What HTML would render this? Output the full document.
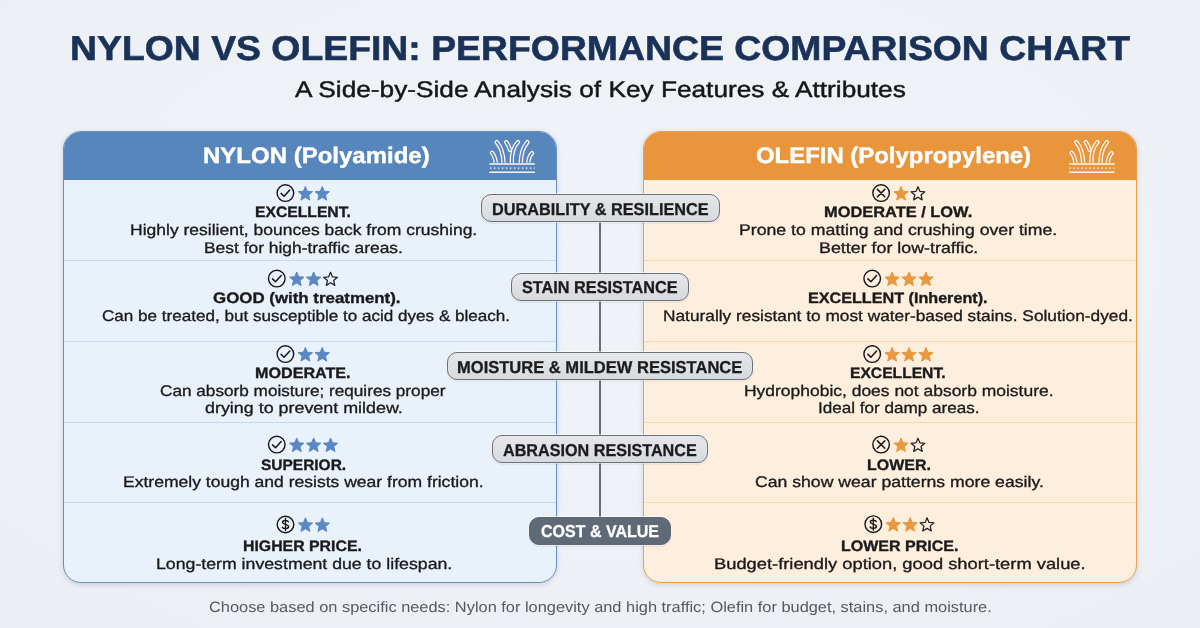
<!DOCTYPE html>
<html><head><meta charset="utf-8"><title>Nylon vs Olefin</title>
<style>
html,body{margin:0;padding:0}
body{width:1200px;height:628px;overflow:hidden;position:relative;background:#eef0f4;font-family:"Liberation Sans",sans-serif}
.bg{position:absolute;left:0;top:0;width:1200px;height:628px;background:radial-gradient(ellipse 75% 80% at 52% 42%,#eff3f8 0%,#eef2f7 55%,#ebeef2 100%)}
.mid{display:none}
.panel{position:absolute;top:131px;width:494px;height:452px;border-radius:18px;box-sizing:border-box;overflow:hidden;box-shadow:0 1.5px 5px rgba(90,100,120,.20)}
.panel .hd{position:absolute;left:0;top:0;right:0;height:47.5px}
.panel .dv{position:absolute;left:0;right:0;height:1px}
#pl{left:63px;background:#e9f1fb;border:1.3px solid #6590c4}
#pl .hd{background:#5786bd}
#pl .dv{background:#c6d9ee}
#pr{left:643px;background:#fdeedd;border:1.3px solid #e9a052}
#pr .hd{background:#e9953c}
#pr .dv{background:#f8d6b0}
.vl{position:absolute;left:599.4px;top:215px;width:1.7px;height:310px;background:#696d72}
.pill{position:absolute;box-sizing:border-box;border:1.2px solid #6d7176;border-radius:10px;background:linear-gradient(#e5e7ea,#d7dade);box-shadow:0 0 0 1px rgba(255,255,255,.55),0 1px 2px rgba(0,0,0,.18)}
.pill.dark{background:#5f6a76;border-color:#5f6a76}
.t{position:absolute;white-space:nowrap;line-height:1;transform-origin:0 0;display:block;text-rendering:geometricPrecision}
svg{position:absolute;left:0;top:0}
.txt{position:absolute;left:0;top:0;width:1200px;height:628px;will-change:transform}
</style></head><body>
<div class="bg"></div>
<div class="mid"></div>
<div class="panel" id="pl"><div class="hd"></div><div class="dv" style="top:128.2px"></div><div class="dv" style="top:209.2px"></div><div class="dv" style="top:289.59999999999997px"></div><div class="dv" style="top:370.3px"></div></div>
<div class="panel" id="pr"><div class="hd"></div><div class="dv" style="top:128.2px"></div><div class="dv" style="top:209.2px"></div><div class="dv" style="top:289.59999999999997px"></div><div class="dv" style="top:370.3px"></div></div>
<div class="vl"></div>
<div class="pill" style="left:480.5px;top:194.2px;width:239.0px;height:28.0px"></div>
<div class="pill" style="left:511.3px;top:272.8px;width:177.3px;height:27.8px"></div>
<div class="pill" style="left:447.3px;top:352.0px;width:305.3px;height:27.8px"></div>
<div class="pill" style="left:491.8px;top:434.9px;width:216.4px;height:27.8px"></div>
<div class="pill dark" style="left:529.2px;top:517.1px;width:141.6px;height:28.1px"></div>

<svg width="1200" height="628" viewBox="0 0 1200 628"><circle cx="285.4" cy="193.1" r="8.3" fill="none" stroke="#161616" stroke-width="1.4"/><path d="M281.10 193.40 L284.10 196.30 L289.80 190.10" fill="none" stroke="#161616" stroke-width="1.5" stroke-linecap="round" stroke-linejoin="round"/><path d="M305.35 186.45 L307.35 191.25 L312.53 191.67 L308.58 195.05 L309.79 200.11 L305.35 197.40 L300.91 200.11 L302.12 195.05 L298.17 191.67 L303.35 191.25Z" fill="#5b88c2" stroke="#5b88c2" stroke-width="1" stroke-linejoin="round"/><path d="M322.25 186.45 L324.25 191.25 L329.43 191.67 L325.48 195.05 L326.69 200.11 L322.25 197.40 L317.81 200.11 L319.02 195.05 L315.07 191.67 L320.25 191.25Z" fill="#5b88c2" stroke="#5b88c2" stroke-width="1" stroke-linejoin="round"/><circle cx="276.8" cy="278.6" r="8.3" fill="none" stroke="#161616" stroke-width="1.4"/><path d="M272.50 278.90 L275.50 281.80 L281.20 275.60" fill="none" stroke="#161616" stroke-width="1.5" stroke-linecap="round" stroke-linejoin="round"/><path d="M296.75 271.95 L298.75 276.75 L303.93 277.17 L299.98 280.55 L301.19 285.61 L296.75 282.90 L292.31 285.61 L293.52 280.55 L289.57 277.17 L294.75 276.75Z" fill="#5b88c2" stroke="#5b88c2" stroke-width="1" stroke-linejoin="round"/><path d="M313.65 271.95 L315.65 276.75 L320.83 277.17 L316.88 280.55 L318.09 285.61 L313.65 282.90 L309.21 285.61 L310.42 280.55 L306.47 277.17 L311.65 276.75Z" fill="#5b88c2" stroke="#5b88c2" stroke-width="1" stroke-linejoin="round"/><path d="M330.55 272.25 L332.47 276.86 L337.45 277.26 L333.65 280.51 L334.81 285.37 L330.55 282.76 L326.29 285.37 L327.45 280.51 L323.65 277.26 L328.63 276.86Z" fill="none" stroke="#222" stroke-width="1.25" stroke-linejoin="round"/><circle cx="285.4" cy="354.1" r="8.3" fill="none" stroke="#161616" stroke-width="1.4"/><path d="M281.10 354.40 L284.10 357.30 L289.80 351.10" fill="none" stroke="#161616" stroke-width="1.5" stroke-linecap="round" stroke-linejoin="round"/><path d="M305.35 347.45 L307.35 352.25 L312.53 352.67 L308.58 356.05 L309.79 361.11 L305.35 358.40 L300.91 361.11 L302.12 356.05 L298.17 352.67 L303.35 352.25Z" fill="#5b88c2" stroke="#5b88c2" stroke-width="1" stroke-linejoin="round"/><path d="M322.25 347.45 L324.25 352.25 L329.43 352.67 L325.48 356.05 L326.69 361.11 L322.25 358.40 L317.81 361.11 L319.02 356.05 L315.07 352.67 L320.25 352.25Z" fill="#5b88c2" stroke="#5b88c2" stroke-width="1" stroke-linejoin="round"/><circle cx="276.8" cy="444.6" r="8.3" fill="none" stroke="#161616" stroke-width="1.4"/><path d="M272.50 444.90 L275.50 447.80 L281.20 441.60" fill="none" stroke="#161616" stroke-width="1.5" stroke-linecap="round" stroke-linejoin="round"/><path d="M296.75 437.95 L298.75 442.75 L303.93 443.17 L299.98 446.55 L301.19 451.61 L296.75 448.90 L292.31 451.61 L293.52 446.55 L289.57 443.17 L294.75 442.75Z" fill="#5b88c2" stroke="#5b88c2" stroke-width="1" stroke-linejoin="round"/><path d="M313.65 437.95 L315.65 442.75 L320.83 443.17 L316.88 446.55 L318.09 451.61 L313.65 448.90 L309.21 451.61 L310.42 446.55 L306.47 443.17 L311.65 442.75Z" fill="#5b88c2" stroke="#5b88c2" stroke-width="1" stroke-linejoin="round"/><path d="M330.55 437.95 L332.55 442.75 L337.73 443.17 L333.78 446.55 L334.99 451.61 L330.55 448.90 L326.11 451.61 L327.32 446.55 L323.37 443.17 L328.55 442.75Z" fill="#5b88c2" stroke="#5b88c2" stroke-width="1" stroke-linejoin="round"/><circle cx="285.5" cy="524.5" r="8.3" fill="none" stroke="#161616" stroke-width="1.4"/><path d="M288.40 521.80 C287.70 520.10 282.50 519.90 282.50 522.30 C282.50 524.70 288.60 524.10 288.60 526.80 C288.60 529.20 283.10 529.00 282.40 527.20" fill="none" stroke="#161616" stroke-width="1.5" stroke-linecap="round"/><path d="M285.5 518.5 L285.5 530.5" stroke="#161616" stroke-width="1.3" stroke-linecap="round"/><path d="M305.45 517.85 L307.45 522.65 L312.63 523.07 L308.68 526.45 L309.89 531.51 L305.45 528.80 L301.01 531.51 L302.22 526.45 L298.27 523.07 L303.45 522.65Z" fill="#5b88c2" stroke="#5b88c2" stroke-width="1" stroke-linejoin="round"/><path d="M322.35 517.85 L324.35 522.65 L329.53 523.07 L325.58 526.45 L326.79 531.51 L322.35 528.80 L317.91 531.51 L319.12 526.45 L315.17 523.07 L320.35 522.65Z" fill="#5b88c2" stroke="#5b88c2" stroke-width="1" stroke-linejoin="round"/><circle cx="881.1" cy="193.1" r="8.3" fill="none" stroke="#161616" stroke-width="1.4"/><path d="M877.4 189.4 L884.8000000000001 196.79999999999998 M884.8000000000001 189.4 L877.4 196.79999999999998" fill="none" stroke="#161616" stroke-width="1.5" stroke-linecap="round"/><path d="M901.05 186.45 L903.05 191.25 L908.23 191.67 L904.28 195.05 L905.49 200.11 L901.05 197.40 L896.61 200.11 L897.82 195.05 L893.87 191.67 L899.05 191.25Z" fill="#e8993f" stroke="#e8993f" stroke-width="1" stroke-linejoin="round"/><path d="M917.95 186.75 L919.87 191.36 L924.85 191.76 L921.05 195.01 L922.21 199.87 L917.95 197.26 L913.69 199.87 L914.85 195.01 L911.05 191.76 L916.03 191.36Z" fill="none" stroke="#222" stroke-width="1.25" stroke-linejoin="round"/><circle cx="872.2" cy="278.6" r="8.3" fill="none" stroke="#161616" stroke-width="1.4"/><path d="M867.90 278.90 L870.90 281.80 L876.60 275.60" fill="none" stroke="#161616" stroke-width="1.5" stroke-linecap="round" stroke-linejoin="round"/><path d="M892.15 271.95 L894.15 276.75 L899.33 277.17 L895.38 280.55 L896.59 285.61 L892.15 282.90 L887.71 285.61 L888.92 280.55 L884.97 277.17 L890.15 276.75Z" fill="#e8993f" stroke="#e8993f" stroke-width="1" stroke-linejoin="round"/><path d="M909.05 271.95 L911.05 276.75 L916.23 277.17 L912.28 280.55 L913.49 285.61 L909.05 282.90 L904.61 285.61 L905.82 280.55 L901.87 277.17 L907.05 276.75Z" fill="#e8993f" stroke="#e8993f" stroke-width="1" stroke-linejoin="round"/><path d="M925.95 271.95 L927.95 276.75 L933.13 277.17 L929.18 280.55 L930.39 285.61 L925.95 282.90 L921.51 285.61 L922.72 280.55 L918.77 277.17 L923.95 276.75Z" fill="#e8993f" stroke="#e8993f" stroke-width="1" stroke-linejoin="round"/><circle cx="872.2" cy="354.1" r="8.3" fill="none" stroke="#161616" stroke-width="1.4"/><path d="M867.90 354.40 L870.90 357.30 L876.60 351.10" fill="none" stroke="#161616" stroke-width="1.5" stroke-linecap="round" stroke-linejoin="round"/><path d="M892.15 347.45 L894.15 352.25 L899.33 352.67 L895.38 356.05 L896.59 361.11 L892.15 358.40 L887.71 361.11 L888.92 356.05 L884.97 352.67 L890.15 352.25Z" fill="#e8993f" stroke="#e8993f" stroke-width="1" stroke-linejoin="round"/><path d="M909.05 347.45 L911.05 352.25 L916.23 352.67 L912.28 356.05 L913.49 361.11 L909.05 358.40 L904.61 361.11 L905.82 356.05 L901.87 352.67 L907.05 352.25Z" fill="#e8993f" stroke="#e8993f" stroke-width="1" stroke-linejoin="round"/><path d="M925.95 347.45 L927.95 352.25 L933.13 352.67 L929.18 356.05 L930.39 361.11 L925.95 358.40 L921.51 361.11 L922.72 356.05 L918.77 352.67 L923.95 352.25Z" fill="#e8993f" stroke="#e8993f" stroke-width="1" stroke-linejoin="round"/><circle cx="881.1" cy="444.6" r="8.3" fill="none" stroke="#161616" stroke-width="1.4"/><path d="M877.4 440.90000000000003 L884.8000000000001 448.3 M884.8000000000001 440.90000000000003 L877.4 448.3" fill="none" stroke="#161616" stroke-width="1.5" stroke-linecap="round"/><path d="M901.05 437.95 L903.05 442.75 L908.23 443.17 L904.28 446.55 L905.49 451.61 L901.05 448.90 L896.61 451.61 L897.82 446.55 L893.87 443.17 L899.05 442.75Z" fill="#e8993f" stroke="#e8993f" stroke-width="1" stroke-linejoin="round"/><path d="M917.95 438.25 L919.87 442.86 L924.85 443.26 L921.05 446.51 L922.21 451.37 L917.95 448.76 L913.69 451.37 L914.85 446.51 L911.05 443.26 L916.03 442.86Z" fill="none" stroke="#222" stroke-width="1.25" stroke-linejoin="round"/><circle cx="873.3" cy="524.2" r="8.3" fill="none" stroke="#161616" stroke-width="1.4"/><path d="M876.20 521.50 C875.50 519.80 870.30 519.60 870.30 522.00 C870.30 524.40 876.40 523.80 876.40 526.50 C876.40 528.90 870.90 528.70 870.20 526.90" fill="none" stroke="#161616" stroke-width="1.5" stroke-linecap="round"/><path d="M873.3 518.2 L873.3 530.2" stroke="#161616" stroke-width="1.3" stroke-linecap="round"/><path d="M893.25 517.55 L895.25 522.35 L900.43 522.77 L896.48 526.15 L897.69 531.21 L893.25 528.50 L888.81 531.21 L890.02 526.15 L886.07 522.77 L891.25 522.35Z" fill="#e8993f" stroke="#e8993f" stroke-width="1" stroke-linejoin="round"/><path d="M910.15 517.55 L912.15 522.35 L917.33 522.77 L913.38 526.15 L914.59 531.21 L910.15 528.50 L905.71 531.21 L906.92 526.15 L902.97 522.77 L908.15 522.35Z" fill="#e8993f" stroke="#e8993f" stroke-width="1" stroke-linejoin="round"/><path d="M927.05 517.85 L928.97 522.46 L933.95 522.86 L930.15 526.11 L931.31 530.97 L927.05 528.36 L922.79 530.97 L923.95 526.11 L920.15 522.86 L925.13 522.46Z" fill="none" stroke="#222" stroke-width="1.25" stroke-linejoin="round"/><g transform="translate(489.4,139.6)" fill="none" stroke-linecap="round"><path d="M6.5 23.5 C5.8 19 4.8 15.6 2.6 13.2" stroke="#fdf6ee" stroke-width="4.4"/><path d="M14.2 23.5 C13.8 14.5 11.5 7.2 7.3 2.6" stroke="#fdf6ee" stroke-width="4.4"/><path d="M22.4 23.5 C22.2 14 24.6 6.2 28.6 2.6" stroke="#fdf6ee" stroke-width="4.4"/><path d="M20.6 10.2 C19.6 7 18.4 4.6 16.8 2.6" stroke="#fdf6ee" stroke-width="4.4"/><path d="M31.4 23.5 C31.4 14.5 34 7.2 38.0 2.6" stroke="#fdf6ee" stroke-width="4.4"/><path d="M38.8 23.5 C39.2 19 40.6 15.6 42.6 13.6" stroke="#fdf6ee" stroke-width="4.4"/><path d="M6.5 23.5 C5.8 19 4.8 15.6 2.6 13.2" stroke="#5786bd" stroke-width="1.8"/><path d="M14.2 23.5 C13.8 14.5 11.5 7.2 7.3 2.6" stroke="#5786bd" stroke-width="1.8"/><path d="M22.4 23.5 C22.2 14 24.6 6.2 28.6 2.6" stroke="#5786bd" stroke-width="1.8"/><path d="M20.6 10.2 C19.6 7 18.4 4.6 16.8 2.6" stroke="#5786bd" stroke-width="1.8"/><path d="M31.4 23.5 C31.4 14.5 34 7.2 38.0 2.6" stroke="#5786bd" stroke-width="1.8"/><path d="M38.8 23.5 C39.2 19 40.6 15.6 42.6 13.6" stroke="#5786bd" stroke-width="1.8"/><rect x="-1" y="23.2" width="48" height="12" fill="#5786bd" stroke="none"/><path d="M0 24.3 H45.5" stroke="#fdf6ee" stroke-width="1.5" stroke-linecap="butt"/><path d="M0.5 28.5 H45.5" stroke="#fdf6ee" stroke-width="1.3" stroke-dasharray="1.5 2.5" stroke-linecap="butt"/><path d="M0 32.6 H45.5" stroke="#fdf6ee" stroke-width="1.5" stroke-linecap="butt"/></g><g transform="translate(1069.0,139.6)" fill="none" stroke-linecap="round"><path d="M6.5 23.5 C5.8 19 4.8 15.6 2.6 13.2" stroke="#fdf6ee" stroke-width="4.4"/><path d="M14.2 23.5 C13.8 14.5 11.5 7.2 7.3 2.6" stroke="#fdf6ee" stroke-width="4.4"/><path d="M22.4 23.5 C22.2 14 24.6 6.2 28.6 2.6" stroke="#fdf6ee" stroke-width="4.4"/><path d="M20.6 10.2 C19.6 7 18.4 4.6 16.8 2.6" stroke="#fdf6ee" stroke-width="4.4"/><path d="M31.4 23.5 C31.4 14.5 34 7.2 38.0 2.6" stroke="#fdf6ee" stroke-width="4.4"/><path d="M38.8 23.5 C39.2 19 40.6 15.6 42.6 13.6" stroke="#fdf6ee" stroke-width="4.4"/><path d="M6.5 23.5 C5.8 19 4.8 15.6 2.6 13.2" stroke="#e9953c" stroke-width="1.8"/><path d="M14.2 23.5 C13.8 14.5 11.5 7.2 7.3 2.6" stroke="#e9953c" stroke-width="1.8"/><path d="M22.4 23.5 C22.2 14 24.6 6.2 28.6 2.6" stroke="#e9953c" stroke-width="1.8"/><path d="M20.6 10.2 C19.6 7 18.4 4.6 16.8 2.6" stroke="#e9953c" stroke-width="1.8"/><path d="M31.4 23.5 C31.4 14.5 34 7.2 38.0 2.6" stroke="#e9953c" stroke-width="1.8"/><path d="M38.8 23.5 C39.2 19 40.6 15.6 42.6 13.6" stroke="#e9953c" stroke-width="1.8"/><rect x="-1" y="23.2" width="48" height="12" fill="#e9953c" stroke="none"/><path d="M0 24.3 H45.5" stroke="#fdf6ee" stroke-width="1.5" stroke-linecap="butt"/><path d="M0.5 28.5 H45.5" stroke="#fdf6ee" stroke-width="1.3" stroke-dasharray="1.5 2.5" stroke-linecap="butt"/><path d="M0 32.6 H45.5" stroke="#fdf6ee" stroke-width="1.5" stroke-linecap="butt"/></g></svg>
<div class="txt">
<span class="t" style="left:70.15px;top:32px;font-size:34.4px;font-weight:700;color:#1a3258;-webkit-text-stroke:0.6px #1a3258;transform:scaleX(1.0864)">NYLON VS OLEFIN: PERFORMANCE COMPARISON CHART</span>
<span class="t" style="left:294.76px;top:79px;font-size:22.6px;font-weight:400;color:#161616;-webkit-text-stroke:0.45px #161616;transform:scaleX(1.1608)">A Side-by-Side Analysis of Key Features &amp; Attributes</span>
<span class="t" style="left:203.34px;top:145px;font-size:22.4px;font-weight:700;color:#ffffff;-webkit-text-stroke:0.4px #ffffff;transform:scaleX(1.0716)">NYLON (Polyamide)</span>
<span class="t" style="left:755.61px;top:145px;font-size:22.4px;font-weight:700;color:#ffffff;-webkit-text-stroke:0.4px #ffffff;transform:scaleX(1.0681)">OLEFIN (Polypropylene)</span>
<span class="t" style="left:254.84px;top:205px;font-size:15.1px;font-weight:700;color:#1a1a1a;-webkit-text-stroke:0.35px #1a1a1a;transform:scaleX(1.0393)">EXCELLENT.</span>
<span class="t" style="left:129.74px;top:223px;font-size:15.4px;font-weight:400;color:#1a1a1a;-webkit-text-stroke:0.32px #1a1a1a;transform:scaleX(1.1370)">Highly resilient, bounces back from crushing.</span>
<span class="t" style="left:204.05px;top:241px;font-size:15.4px;font-weight:400;color:#1a1a1a;-webkit-text-stroke:0.32px #1a1a1a;transform:scaleX(1.1306)">Best for high-traffic areas.</span>
<span class="t" style="left:212.50px;top:291px;font-size:15.1px;font-weight:700;color:#1a1a1a;-webkit-text-stroke:0.35px #1a1a1a;transform:scaleX(1.1181)">GOOD (with treatment).</span>
<span class="t" style="left:102.18px;top:309px;font-size:15.4px;font-weight:400;color:#1a1a1a;-webkit-text-stroke:0.32px #1a1a1a;transform:scaleX(1.1092)">Can be treated, but susceptible to acid dyes &amp; bleach.</span>
<span class="t" style="left:255.12px;top:366px;font-size:15.1px;font-weight:700;color:#1a1a1a;-webkit-text-stroke:0.35px #1a1a1a;transform:scaleX(1.0689)">MODERATE.</span>
<span class="t" style="left:160.18px;top:384px;font-size:15.4px;font-weight:400;color:#1a1a1a;-webkit-text-stroke:0.32px #1a1a1a;transform:scaleX(1.1161)">Can absorb moisture; requires proper</span>
<span class="t" style="left:205.19px;top:401px;font-size:15.4px;font-weight:400;color:#1a1a1a;-webkit-text-stroke:0.32px #1a1a1a;transform:scaleX(1.1620)">drying to prevent mildew.</span>
<span class="t" style="left:260.88px;top:458px;font-size:15.1px;font-weight:700;color:#1a1a1a;-webkit-text-stroke:0.35px #1a1a1a;transform:scaleX(1.0254)">SUPERIOR.</span>
<span class="t" style="left:123.44px;top:475px;font-size:15.4px;font-weight:400;color:#1a1a1a;-webkit-text-stroke:0.32px #1a1a1a;transform:scaleX(1.1392)">Extremely tough and resists wear from friction.</span>
<span class="t" style="left:243.43px;top:539px;font-size:15.1px;font-weight:700;color:#1a1a1a;-webkit-text-stroke:0.35px #1a1a1a;transform:scaleX(1.0501)">HIGHER PRICE.</span>
<span class="t" style="left:155.73px;top:557px;font-size:15.4px;font-weight:400;color:#1a1a1a;-webkit-text-stroke:0.32px #1a1a1a;transform:scaleX(1.1505)">Long-term investment due to lifespan.</span>
<span class="t" style="left:823.80px;top:205px;font-size:15.1px;font-weight:700;color:#1a1a1a;-webkit-text-stroke:0.35px #1a1a1a;transform:scaleX(1.0867)">MODERATE / LOW.</span>
<span class="t" style="left:739.34px;top:223px;font-size:15.4px;font-weight:400;color:#1a1a1a;-webkit-text-stroke:0.32px #1a1a1a;transform:scaleX(1.1482)">Prone to matting and crushing over time.</span>
<span class="t" style="left:818.73px;top:241px;font-size:15.4px;font-weight:400;color:#1a1a1a;-webkit-text-stroke:0.32px #1a1a1a;transform:scaleX(1.1590)">Better for low-traffic.</span>
<span class="t" style="left:807.82px;top:291px;font-size:15.1px;font-weight:700;color:#1a1a1a;-webkit-text-stroke:0.35px #1a1a1a;transform:scaleX(1.0703)">EXCELLENT (Inherent).</span>
<span class="t" style="left:663.36px;top:309px;font-size:15.4px;font-weight:400;color:#1a1a1a;-webkit-text-stroke:0.32px #1a1a1a;transform:scaleX(1.1233)">Naturally resistant to most water-based stains. Solution-dyed.</span>
<span class="t" style="left:850.45px;top:366px;font-size:15.1px;font-weight:700;color:#1a1a1a;-webkit-text-stroke:0.35px #1a1a1a;transform:scaleX(1.0360)">EXCELLENT.</span>
<span class="t" style="left:744.05px;top:384px;font-size:15.4px;font-weight:400;color:#1a1a1a;-webkit-text-stroke:0.32px #1a1a1a;transform:scaleX(1.1342)">Hydrophobic, does not absorb moisture.</span>
<span class="t" style="left:818.07px;top:401px;font-size:15.4px;font-weight:400;color:#1a1a1a;-webkit-text-stroke:0.32px #1a1a1a;transform:scaleX(1.1103)">Ideal for damp areas.</span>
<span class="t" style="left:866.83px;top:458px;font-size:15.1px;font-weight:700;color:#1a1a1a;-webkit-text-stroke:0.35px #1a1a1a;transform:scaleX(1.0584)">LOWER.</span>
<span class="t" style="left:755.18px;top:475px;font-size:15.4px;font-weight:400;color:#1a1a1a;-webkit-text-stroke:0.32px #1a1a1a;transform:scaleX(1.1457)">Can show wear patterns more easily.</span>
<span class="t" style="left:840.82px;top:539px;font-size:15.1px;font-weight:700;color:#1a1a1a;-webkit-text-stroke:0.35px #1a1a1a;transform:scaleX(1.0615)">LOWER PRICE.</span>
<span class="t" style="left:714.00px;top:557px;font-size:15.4px;font-weight:400;color:#1a1a1a;-webkit-text-stroke:0.32px #1a1a1a;transform:scaleX(1.1901)">Budget-friendly option, good short-term value.</span>
<span class="t" style="left:209.30px;top:600px;font-size:15px;font-weight:400;color:#555a60;-webkit-text-stroke:0px #555a60;transform:scaleX(1.0920)">Choose based on specific needs: Nylon for longevity and high traffic; Olefin for budget, stains, and moisture.</span>
<span class="t" style="left:491.70px;top:201px;font-size:17.2px;font-weight:700;color:#1c1c1c;-webkit-text-stroke:0.3px #1c1c1c;transform:scaleX(0.9464)">DURABILITY &amp; RESILIENCE</span>
<span class="t" style="left:522.34px;top:279px;font-size:17.2px;font-weight:700;color:#1c1c1c;-webkit-text-stroke:0.3px #1c1c1c;transform:scaleX(0.9459)">STAIN RESISTANCE</span>
<span class="t" style="left:456.98px;top:359px;font-size:17.2px;font-weight:700;color:#1c1c1c;-webkit-text-stroke:0.3px #1c1c1c;transform:scaleX(0.9618)">MOISTURE &amp; MILDEW RESISTANCE</span>
<span class="t" style="left:503.14px;top:442px;font-size:17.2px;font-weight:700;color:#1c1c1c;-webkit-text-stroke:0.3px #1c1c1c;transform:scaleX(0.9408)">ABRASION RESISTANCE</span>
<span class="t" style="left:541.34px;top:523px;font-size:17.2px;font-weight:700;color:#ffffff;-webkit-text-stroke:0.3px #ffffff;transform:scaleX(0.9319)">COST &amp; VALUE</span>
</div>
</body></html>
